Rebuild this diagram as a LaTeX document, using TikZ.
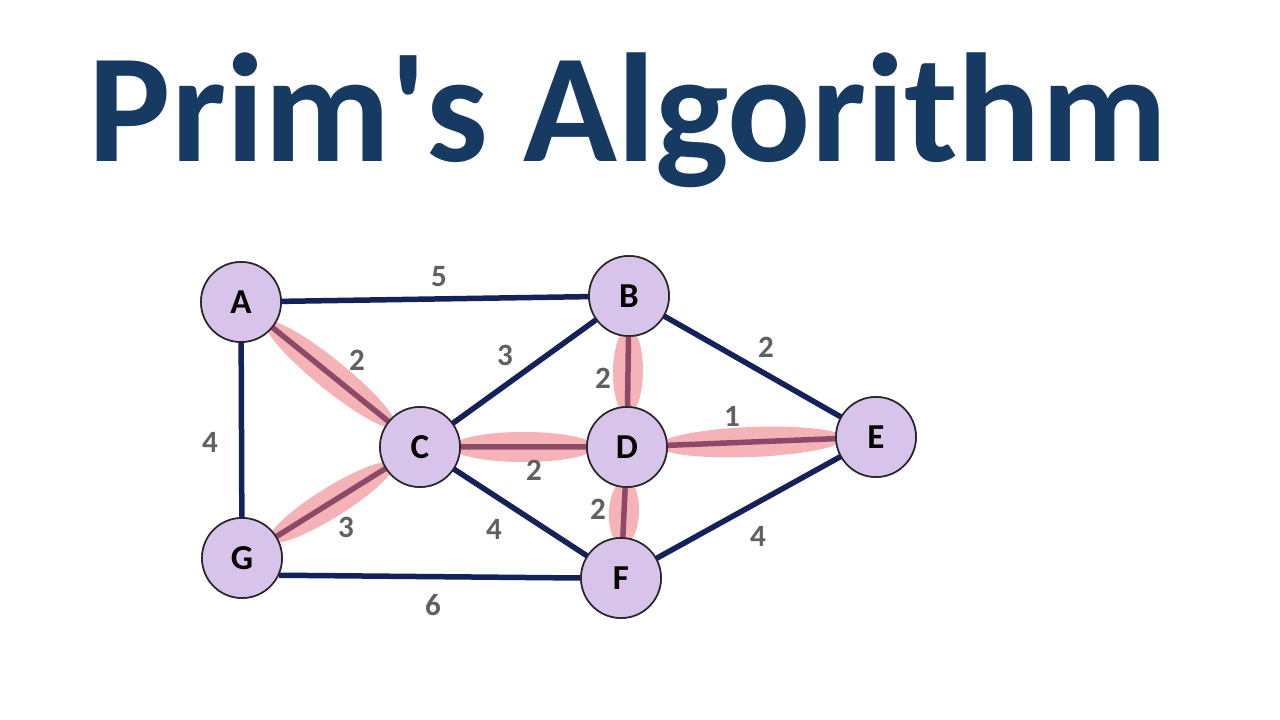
\documentclass[tikz,border=0pt]{standalone}
\usepackage{fontspec}
\setmainfont{Carlito}
\newfontfamily\titlefont{Carlito}
\usetikzlibrary{calc}
\definecolor{navy}{HTML}{173A63}
\definecolor{edgec}{HTML}{14215A}
\definecolor{lav}{HTML}{D8C4EA}
\definecolor{pinkh}{HTML}{F6B3B7}
\definecolor{mst}{HTML}{8C4A68}
\definecolor{lbl}{HTML}{606060}
\tikzset{
 vert/.style={circle,draw=black!85,line width=1.6pt,fill=lav,minimum size=80pt,inner sep=0pt,font=\fontsize{35}{35}\selectfont\bfseries},
 edge/.style={draw=edgec,line width=5.5pt},
 mstedge/.style={draw=mst,line width=5.5pt},
 wlab/.style={text=lbl,font=\fontsize{31}{31}\selectfont\bfseries},
}
\newcommand{\hl}[2]{%
 \path let \p1=($(#2)-(#1)$), \n1={atan2(\y1,\x1)}, \n2={veclen(\x1,\y1)/2-32} in
 [fill=pinkh] ($(#1)!0.5!(#2)$) ellipse[x radius=\n2, y radius=15pt, rotate=\n1];}
\begin{document}
\begin{tikzpicture}[x=1pt,y=1pt]
\fill[white] (0,0) rectangle (1280,720);
\useasboundingbox (0,0) rectangle (1280,720);
\node[text=navy,font=\titlefont\fontsize{155}{155}\selectfont\bfseries] (title) at (628,600) {Prim's Algorithm};
\coordinate (A) at (241,418);
\coordinate (B) at (629,424);
\coordinate (C) at (420,273);
\coordinate (D) at (627,273);
\coordinate (E) at (876,283);
\coordinate (G) at (242,162);
\coordinate (F) at (621,142);
\hl{A}{C}\hl{C}{G}\hl{C}{D}\hl{B}{D}\hl{D}{E}\hl{D}{F}
\node[vert] (nA) at (A) {A};
\node[vert] (nB) at (B) {B};
\node[vert] (nC) at (C) {C};
\node[vert] (nD) at (D) {D};
\node[vert] (nE) at (E) {E};
\node[vert] (nG) at (G) {G};
\node[vert] (nF) at (F) {F};
\begin{scope}[on background layer/.style={}]
\end{scope}
\draw[edge] (A)--(B) (A)--(G) (B)--(C) (B)--(E) (C)--(F) (F)--(E);
\draw[edge] (nG.-25)--(nF.180);
\draw[mstedge] (A)--(C) (C)--(G) (C)--(D) (B)--(D) (D)--(E) (D)--(F);
\node[vert] at (A) {A};
\node[vert] at (B) {B};
\node[vert] at (C) {C};
\node[vert] at (D) {D};
\node[vert] at (E) {E};
\node[vert] at (G) {G};
\node[vert] at (F) {F};
\node[wlab] (l1) at (439,443) {5};
\node[wlab] (l2) at (357,360) {2};
\node[wlab] (l3) at (505,365) {3};
\node[wlab] (l4) at (766,373) {2};
\node[wlab] (l5) at (603,342) {2};
\node[wlab] (l6) at (210,278) {4};
\node[wlab] (l7) at (732,304) {1};
\node[wlab] (l8) at (534,250) {2};
\node[wlab] (l9) at (598,211) {2};
\node[wlab] (l10) at (346,193) {3};
\node[wlab] (l11) at (494,191) {4};
\node[wlab] (l12) at (758,184) {4};
\node[wlab] (l13) at (433,115) {6};
\end{tikzpicture}
\end{document}
